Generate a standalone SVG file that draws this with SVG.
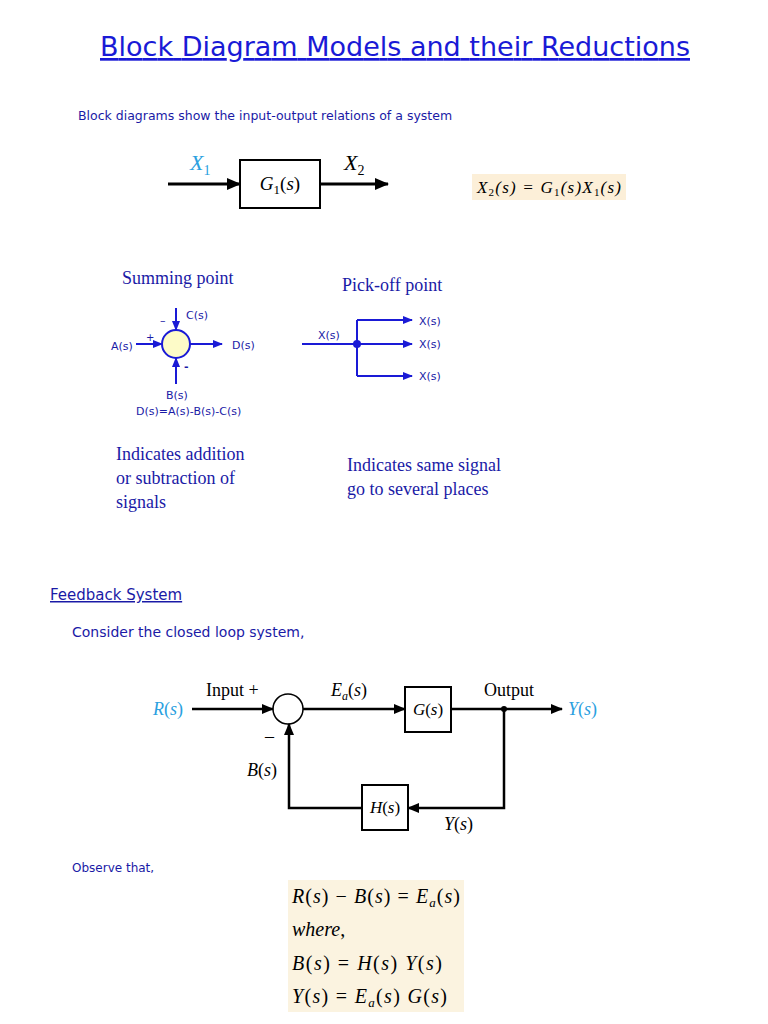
<svg xmlns="http://www.w3.org/2000/svg" width="768" height="1024" viewBox="0 0 768 1024">
<defs>
<marker id="ak" markerWidth="12" markerHeight="10" refX="11" refY="5" orient="auto" markerUnits="userSpaceOnUse"><path d="M0,0 L12,5 L0,10 z" fill="#000"/></marker>
<marker id="kb" markerWidth="14" markerHeight="12" refX="13" refY="6" orient="auto" markerUnits="userSpaceOnUse"><path d="M0,0 L14,6 L0,12 z" fill="#000"/></marker>
<marker id="ab" markerWidth="10" markerHeight="8" refX="9" refY="4" orient="auto" markerUnits="userSpaceOnUse"><path d="M0,0 L10,4 L0,8 z" fill="#1a1ad6"/></marker>
<style>
.v{font-family:"DejaVu Sans",Verdana,sans-serif;fill:#1a1aa6}
.s{font-family:"Liberation Serif","Times New Roman",serif}
.bl{stroke:#1a1ad6;stroke-width:2;fill:none}
.k{stroke:#000;stroke-width:3;fill:none}
.k2{stroke:#000;stroke-width:2.5;fill:none}
</style>
</defs>
<rect width="768" height="1024" fill="#fff"/>
<text x="395" y="56" text-anchor="middle" font-family="'DejaVu Sans',sans-serif" font-size="27" textLength="590" fill="#1a1ad6" text-decoration="underline">Block Diagram Models and their Reductions</text>
<text x="78" y="120" class="v" font-size="12.5">Block diagrams show the input-output relations of a system</text>
<g id="g1"><rect x="240" y="160" width="80" height="48" fill="#fff" stroke="#000" stroke-width="2"/><text x="280" y="190" text-anchor="middle" class="s" font-size="19" font-style="italic">G<tspan font-style="normal" font-size="13" dy="4">1</tspan><tspan dy="-4" font-style="normal">(</tspan>s<tspan font-style="normal">)</tspan></text></g>
<text x="190" y="170" class="s" font-size="22" font-style="italic" fill="#2aa0e0">X<tspan font-size="14" dy="5" font-style="normal">1</tspan></text>
<text x="344" y="170" class="s" font-size="22" font-style="italic">X<tspan font-size="14" dy="5" font-style="normal">2</tspan></text>
<g id="eq1"><rect x="472" y="174" width="154" height="26" fill="#fcefd8"/><text x="477" y="193" class="s" font-size="17" font-style="italic" textLength="144">X<tspan font-size="11" font-style="normal" dy="3">2</tspan><tspan dy="-3">(s)</tspan> = G<tspan font-size="11" font-style="normal" dy="3">1</tspan><tspan dy="-3">(s)X</tspan><tspan font-size="11" font-style="normal" dy="3">1</tspan><tspan dy="-3">(s)</tspan></text></g>
<text x="122" y="284" class="s" font-size="18" fill="#1a1aa6">Summing point</text>
<text x="342" y="291" class="s" font-size="18" fill="#1a1aa6">Pick-off point</text>
<g id="sum1"><circle cx="176" cy="344" r="14" fill="#fdfbc8" stroke="#1a1ad6" stroke-width="2"/></g>
<g id="pick"><circle cx="357" cy="344" r="4" fill="#1a1ad6"/></g>
<g id="conn-top">
<line x1="168" y1="184" x2="240" y2="184" class="k" marker-end="url(#kb)"/>
<line x1="320" y1="184" x2="388" y2="184" class="k" marker-end="url(#kb)"/>
<line x1="136" y1="344" x2="162" y2="344" class="bl" marker-end="url(#ab)"/>
<line x1="190" y1="344" x2="222" y2="344" class="bl" marker-end="url(#ab)"/>
<line x1="176" y1="308" x2="176" y2="330" class="bl" marker-end="url(#ab)"/>
<line x1="176" y1="384" x2="176" y2="358" class="bl" marker-end="url(#ab)"/>
<line x1="302" y1="344" x2="412" y2="344" class="bl" marker-end="url(#ab)"/>
<line x1="357" y1="320" x2="357" y2="376" class="bl"/>
<line x1="357" y1="320" x2="412" y2="320" class="bl" marker-end="url(#ab)"/>
<line x1="357" y1="376" x2="412" y2="376" class="bl" marker-end="url(#ab)"/>
</g>
<g class="v" font-size="11">
<text x="186" y="319">C(s)</text><text x="160" y="324">–</text>
<text x="111" y="350">A(s)</text><text x="146" y="341" font-size="10">+</text>
<text x="232" y="349">D(s)</text><text x="184" y="370" font-weight="bold">-</text>
<text x="166" y="399">B(s)</text><text x="136" y="415">D(s)=A(s)-B(s)-C(s)</text>
<text x="318" y="339">X(s)</text><text x="419" y="325">X(s)</text><text x="419" y="348">X(s)</text><text x="419" y="380">X(s)</text>
</g>
<text class="s" font-size="18" fill="#1a1aa6"><tspan x="116" y="460">Indicates addition</tspan><tspan x="116" y="484">or  subtraction of</tspan><tspan x="116" y="508">signals</tspan></text>
<text class="s" font-size="18" fill="#1a1aa6"><tspan x="347" y="471">Indicates same signal</tspan><tspan x="347" y="495">go to several places</tspan></text>
<text x="50" y="600" class="v" font-size="15" text-decoration="underline">Feedback System</text>
<text x="72" y="637" class="v" font-size="14">Consider the closed loop system,</text>
<g id="sum2"><circle cx="288" cy="709" r="15" fill="#fff" stroke="#000" stroke-width="1.5"/></g>
<g id="G"><rect x="405" y="687" width="46" height="45" fill="#fff" stroke="#000" stroke-width="2"/><text x="428" y="715" text-anchor="middle" class="s" font-size="17" font-style="italic">G<tspan font-style="normal">(</tspan>s<tspan font-style="normal">)</tspan></text></g>
<g id="H"><rect x="362" y="785" width="46" height="45" fill="#fff" stroke="#000" stroke-width="2"/><text x="385" y="813" text-anchor="middle" class="s" font-size="17" font-style="italic">H<tspan font-style="normal">(</tspan>s<tspan font-style="normal">)</tspan></text></g>
<g id="conn-fb">
<line x1="192" y1="709" x2="273" y2="709" class="k2" marker-end="url(#ak)"/>
<line x1="303" y1="709" x2="405" y2="709" class="k2" marker-end="url(#ak)"/>
<line x1="451" y1="709" x2="562" y2="709" class="k2" marker-end="url(#ak)"/>
<polyline points="504,709 504,808 408,808" class="k2" marker-end="url(#ak)"/>
<polyline points="362,808 289,808 289,724" class="k2" marker-end="url(#ak)"/>
<circle cx="504" cy="709" r="3" fill="#000"/>
</g>
<g class="s" font-size="18">
<text x="153" y="715" font-style="italic" fill="#2aa0e0">R<tspan font-style="normal">(</tspan>s<tspan font-style="normal">)</tspan></text>
<text x="206" y="696">Input +</text>
<text x="331" y="696" font-style="italic">E<tspan font-size="12" dy="4">a</tspan><tspan dy="-4" font-style="normal">(</tspan>s<tspan font-style="normal">)</tspan></text>
<text x="484" y="696">Output</text>
<text x="568" y="715" font-style="italic" fill="#2aa0e0">Y<tspan font-style="normal">(</tspan>s<tspan font-style="normal">)</tspan></text>
<text x="265" y="742">–</text>
<text x="247" y="776" font-style="italic">B<tspan font-style="normal">(</tspan>s<tspan font-style="normal">)</tspan></text>
<text x="444" y="830" font-style="italic">Y<tspan font-style="normal">(</tspan>s<tspan font-style="normal">)</tspan></text>
</g>
<text x="72" y="872" class="v" font-size="12">Observe that,</text>
<g id="eqs"><rect x="288" y="880" width="176" height="132" fill="#fbf3e0"/>
<g class="s" font-size="20" font-style="italic">
<text x="292" y="903" textLength="168">R<tspan font-style="normal">(</tspan>s<tspan font-style="normal">) − </tspan>B<tspan font-style="normal">(</tspan>s<tspan font-style="normal">) = </tspan>E<tspan font-size="13" dy="4">a</tspan><tspan dy="-4" font-style="normal">(</tspan>s<tspan font-style="normal">)</tspan></text>
<text x="292" y="936">where<tspan font-style="normal">,</tspan></text>
<text x="292" y="970" textLength="150">B<tspan font-style="normal">(</tspan>s<tspan font-style="normal">) = </tspan>H<tspan font-style="normal">(</tspan>s<tspan font-style="normal">) </tspan>Y<tspan font-style="normal">(</tspan>s<tspan font-style="normal">)</tspan></text>
<text x="292" y="1003" textLength="155">Y<tspan font-style="normal">(</tspan>s<tspan font-style="normal">) = </tspan>E<tspan font-size="13" dy="4">a</tspan><tspan dy="-4" font-style="normal">(</tspan>s<tspan font-style="normal">) </tspan>G<tspan font-style="normal">(</tspan>s<tspan font-style="normal">)</tspan></text>
</g></g>
</svg>
